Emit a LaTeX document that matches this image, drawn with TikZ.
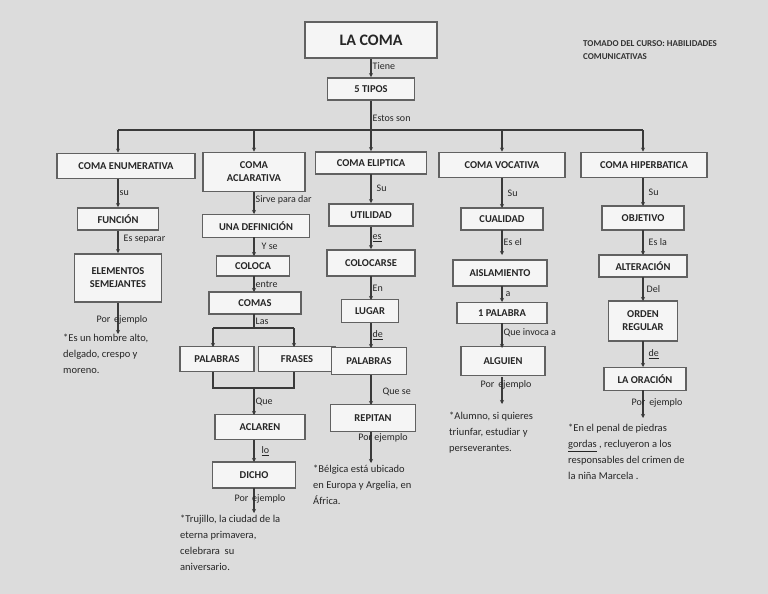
\documentclass[tikz,border=0pt]{standalone}
\usepackage{fontspec}
\setmainfont{Carlito}
\usetikzlibrary{arrows.meta}
\definecolor{bg}{HTML}{DCDCDC}
\definecolor{ln}{HTML}{3A3A3A}
\begin{document}
\begin{tikzpicture}[x=1pt,y=-1pt,
  box/.style={draw=ln!80,line width=1.8pt,fill=gray!8,font=\fontsize{10.5}{13}\selectfont\bfseries,align=center,inner sep=0pt,text=black!85},
  lab/.style={font=\fontsize{10}{11}\selectfont,text=black!85,inner sep=1pt},
  ex/.style={font=\fontsize{10.5}{16}\selectfont,align=left,anchor=north west,inner sep=0pt,text=black!85},
  arr/.style={draw=ln,line width=1.4pt,-{Stealth[length=4pt,width=4pt]}},
  ln/.style={draw=ln,line width=1.4pt}]
\fill[bg] (0,0) rectangle (768,594);
\useasboundingbox (0,0) rectangle (768,594);
\node[box,minimum width=132pt,minimum height=36pt,font=\fontsize{16}{18}\selectfont\bfseries] (coma) at (371,40) {LA COMA};
\node[box,minimum width=87pt,minimum height=22pt] (tipos) at (371,89) {5 TIPOS};
\node[font=\fontsize{9}{13}\selectfont\bfseries,align=left,anchor=north west,text=black!80,inner sep=0pt] (src) at (583,40) {TOMADO DEL CURSO: HABILIDADES\\COMUNICATIVAS};
\draw[arr] (coma) -- node[lab,right,pos=0.4]{Tiene} (tipos);
\coordinate (bus) at (371,130);
\draw[ln] (tipos) -- node[lab,right,pos=0.6]{Estos son} (bus);
\draw[ln] (118,130) -- (643,130);
% types
\node[box,minimum width=138pt,minimum height=25pt] (enu) at (126,166) {COMA ENUMERATIVA};
\node[box,minimum width=102pt,minimum height=39pt] (acl) at (254,172) {COMA\\ACLARATIVA};
\node[box,minimum width=111pt,minimum height=22pt] (eli) at (371,163) {COMA ELIPTICA};
\node[box,minimum width=126pt,minimum height=25pt] (voc) at (502,165) {COMA VOCATIVA};
\node[box,minimum width=126pt,minimum height=25pt] (hip) at (644,165) {COMA HIPERBATICA};
\foreach \n/\x in {enu/118,acl/254,eli/371,voc/502,hip/643}{
  \coordinate (t\n) at (\x,130);
  \draw[arr] (t\n) -- (t\n |- \n.north);}
% enumerativa
\node[box,minimum width=81pt,minimum height=22pt] (fun) at (118,219) {FUNCIÓN};
\node[box,minimum width=87pt,minimum height=48pt] (ele) at (118,278) {ELEMENTOS\\SEMEJANTES};
\node[ex] (ex1) at (63,334) {*Es un hombre alto,\\delgado, crespo y\\moreno.};
\draw[arr] (fun |- enu.south) -- node[lab,right]{su} (fun.north);
\draw[arr] (fun) -- node[lab,right,xshift=4pt,pos=0.35]{Es separar} (ele);
\draw[arr] (ele.south) -- node[lab,pos=0.55,xshift=4pt]{Por \,ejemplo} (ele.south |- ex1.north);
% aclarativa
\node[box,minimum width=107pt,minimum height=23pt] (def) at (256,226) {UNA DEFINICIÓN};
\node[box,minimum width=73pt,minimum height=20pt] (col) at (253,266) {COLOCA};
\node[box,minimum width=92pt,minimum height=22pt] (com) at (255,303) {COMAS};
\node[box,minimum width=74pt,minimum height=25pt] (pal) at (217,359) {PALABRAS};
\node[box,minimum width=77pt,minimum height=25pt] (fra) at (297,359) {FRASES};
\node[box,minimum width=90pt,minimum height=25pt] (acla) at (260,427) {ACLAREN};
\node[box,minimum width=83pt,minimum height=26pt] (dic) at (254,475) {DICHO};
\node[ex] (ex2) at (180,515) {*Trujillo, la ciudad de la\\eterna primavera,\\celebrara \ su\\aniversario.};
\draw[arr] (254,192) -- node[lab,right,pos=0.35]{Sirve para dar} (254,214);
\draw[arr] (254,237) -- node[lab,right,xshift=6pt]{Y se} (254,256);
\draw[arr] (254,276) -- node[lab,right]{entre} (254,292);
\draw[ln] (254,314) -- node[lab,right]{Las} (254,328);
\draw[ln] (213,328) -- (294,328);
\draw[arr] (213,328) -- (213,347);
\draw[arr] (294,328) -- (294,347);
\draw[ln] (213,372) -- (213,388) -- (294,388) -- (294,372);
\draw[arr] (254,388) -- node[lab,right]{Que} (254,415);
\draw[arr] (254,440) -- node[lab,right,xshift=6pt]{\underline{lo}} (254,462);
\draw[arr] (254,488) -- node[lab,pos=0.45,xshift=6pt]{Por \,ejemplo} (254,513);
% eliptica
\node[box,minimum width=84pt,minimum height=22pt] (uti) at (371,215) {UTILIDAD};
\node[box,minimum width=88pt,minimum height=26pt] (colc) at (371,263) {COLOCARSE};
\node[box,minimum width=57pt,minimum height=23pt] (lug) at (370,311) {LUGAR};
\node[box,minimum width=75pt,minimum height=27pt] (pal2) at (369,361) {PALABRAS};
\node[box,minimum width=85pt,minimum height=27pt] (rep) at (373,418) {REPITAN};
\node[ex] (ex3) at (313,465) {*Bélgica está ubicado\\en Europa y Argelia, en\\África.};
\draw[arr] (371,174) -- node[lab,right,xshift=4pt]{Su} (uti.north);
\draw[arr] (uti) -- node[lab,right]{\underline{es}} (colc);
\draw[arr] (371,276) -- node[lab,right]{En} (371,300);
\draw[arr] (371,323) -- node[lab,right]{\underline{de}} (371,348);
\draw[arr] (371,375) -- node[lab,right,xshift=10pt,pos=0.55]{Que se} (371,405);
\draw[arr] (371,432) -- node[lab,pos=0.2,xshift=12pt]{Por ejemplo} (371,463);
% vocativa
\node[box,minimum width=82pt,minimum height=22pt] (cua) at (502,219) {CUALIDAD};
\node[box,minimum width=94pt,minimum height=26pt] (ais) at (500,273) {AISLAMIENTO};
\node[box,minimum width=90pt,minimum height=21pt] (una) at (502,313) {1 PALABRA};
\node[box,minimum width=84pt,minimum height=29pt] (alg) at (503,361) {ALGUIEN};
\node[ex] (ex4) at (449,412) {*Alumno, si quieres\\triunfar, estudiar y\\perseverantes.};
\draw[arr] (502,178) -- node[lab,right,xshift=4pt]{Su} (502,208);
\draw[arr] (502,230) -- node[lab,right]{Es el} (502,255);
\draw[arr] (502,286) -- node[lab,right,xshift=2pt]{a} (502,302);
\draw[arr] (502,323) -- node[lab,right,pos=0.4]{Que invoca a} (502,348);
\draw[arr] (502,377) -- node[lab,pos=0.3,xshift=4pt]{Por \,ejemplo} (502,404);
% hiperbatica
\node[box,minimum width=82pt,minimum height=24pt] (obj) at (643,218) {OBJETIVO};
\node[box,minimum width=88pt,minimum height=22pt] (alt) at (643,266) {ALTERACIÓN};
\node[box,minimum width=69pt,minimum height=40pt] (ord) at (643,321) {ORDEN\\REGULAR};
\node[box,minimum width=82pt,minimum height=23pt] (ora) at (645,379) {LA ORACIÓN};
\node[ex] (ex5) at (568,424) {*En el penal de piedras\\\underline{gordas} , recluyeron a los\\responsables del crimen de\\la niña Marcela .};
\draw[arr] (643,178) -- node[lab,right,xshift=4pt]{Su} (643,206);
\draw[arr] (643,230) -- node[lab,right,xshift=4pt]{Es la} (643,255);
\draw[arr] (643,277) -- node[lab,right,xshift=2pt]{Del} (643,301);
\draw[arr] (643,341) -- node[lab,right,xshift=4pt]{\underline{de}} (643,367);
\draw[arr] (643,390) -- node[lab,pos=0.45,xshift=14pt]{Por \,ejemplo} (643,418);
\end{tikzpicture}
\end{document}
